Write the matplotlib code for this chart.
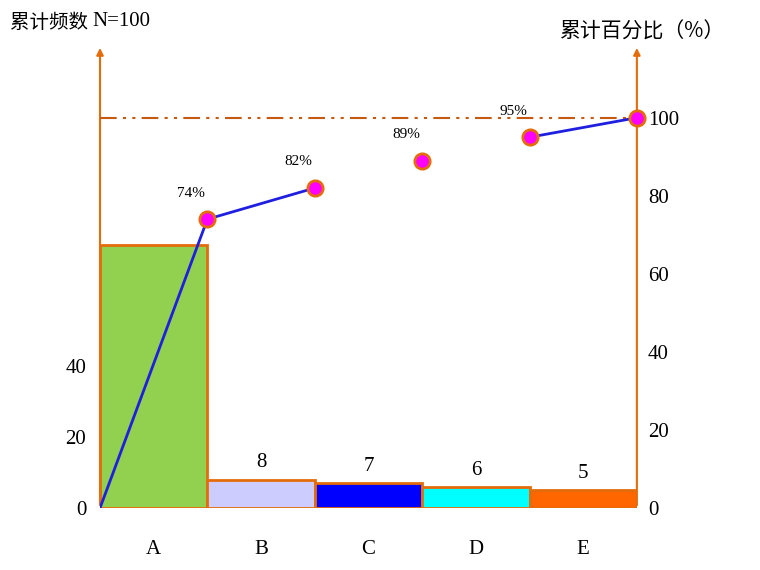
import matplotlib
matplotlib.use("Agg")
import matplotlib.pyplot as plt

categories = ["A", "B", "C", "D", "E"]
counts = [74, 8, 7, 6, 5]
cum_pct = [74, 82, 89, 95, 100]
bar_colors = ["#92d050", "#ccccff", "#0000ff", "#00ffff", "#ff6600"]
left_ticks = [0, 20, 40]
right_ticks = [0, 20, 40, 60, 80, 100]

orange = "#e46c0a"
serif = "Liberation Serif"
cjk = "Noto Sans CJK SC"

fig = plt.figure(figsize=(7.6, 5.7), dpi=100)
ax = fig.add_axes([0.1316, 0.1088, 0.7064, 0.812])
ax2 = ax.twinx()

ax.set_xlim(0, 5)
ax.set_ylim(0, 130)
ax2.set_ylim(0, 118.6)

for i, (c, v) in enumerate(zip(bar_colors, counts)):
    ax.bar(i + 0.5, v, width=1.0, color=c, edgecolor=orange, linewidth=2, zorder=2)
    if i > 0:
        ax.text(i + 0.5, v + 2, str(v), ha="center", va="bottom", fontsize=15, family=serif)
    ax.text(i + 0.5, -9, categories[i], ha="center", va="top", fontsize=15, family=serif)

for s in ["top", "right", "left", "bottom"]:
    ax.spines[s].set_visible(False)
    ax2.spines[s].set_visible(False)
ax.set_xticks([])
ax.set_yticks(left_ticks)
ax.set_yticklabels([str(t) for t in left_ticks], family=serif, fontsize=15)
ax.tick_params(axis="y", length=0, pad=10)
ax2.set_yticks(right_ticks)
ax2.set_yticklabels([str(t) for t in right_ticks], family=serif, fontsize=15)
ax2.tick_params(axis="y", length=0, pad=8)

# axes with arrows
ax.annotate("", xy=(0, 1.0), xytext=(0, 0), xycoords="axes fraction",
            arrowprops=dict(arrowstyle="-|>", color=orange, lw=1.5))
ax.annotate("", xy=(1, 1.0), xytext=(1, 0), xycoords="axes fraction",
            arrowprops=dict(arrowstyle="-|>", color=orange, lw=1.5))
ax2.axhline(100, color="#c55a11", lw=1.5, dashes=[8, 3, 1.5, 3, 1.5, 3])

# cumulative line (drawn as in the original: 0-A-B and D-E)
xs = [i + 1 for i in range(len(cum_pct))]
ax2.plot([0, xs[0], xs[1]], [0, cum_pct[0], cum_pct[1]], color="#1f1fe0", lw=2, zorder=3)
ax2.plot([xs[3], xs[4]], [cum_pct[3], cum_pct[4]], color="#1f1fe0", lw=2, zorder=3)
ax2.plot(xs, cum_pct, "o", ms=11, mfc="#ff00ff", mec=orange, mew=2, zorder=4, clip_on=False)
for x, p in zip(xs[:-1], cum_pct[:-1]):
    ax2.text(x - 0.15, p + 5, f"{p}%", ha="center", va="bottom", fontsize=11, family=serif)

fig.text(10 / 760, 1 - 22 / 570, "累计频数", family=cjk, fontsize=14, va="center")
fig.text(92 / 760, 1 - 22 / 570, "N=100", family=serif, fontsize=15, va="center")
fig.text(560 / 760, 1 - 32 / 570, "累计百分比（%）", family=cjk, fontsize=15, va="center")

fig.savefig("out.png", dpi=100)
